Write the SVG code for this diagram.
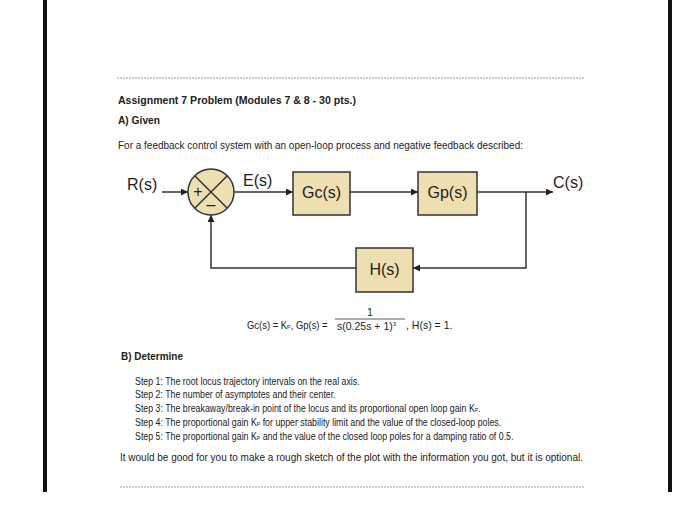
<svg xmlns="http://www.w3.org/2000/svg" width="700" height="508" viewBox="0 0 700 508">
<defs>
<style>
.t{font-family:"Liberation Sans",Arial,sans-serif;font-size:10.5px;fill:#222}
.b{font-weight:bold}
.lbl{font-family:"Liberation Sans",Arial,sans-serif;font-size:16px;fill:#222}
.box{fill:#eedfb0;stroke:#333;stroke-width:1.5}
.ln{fill:none;stroke:#333;stroke-width:1.5}
.dash{stroke:#999;stroke-width:1;stroke-dasharray:2 1}
</style>
<marker id="ah" viewBox="0 0 10 10" refX="10" refY="5" markerWidth="7" markerHeight="7" orient="auto" markerUnits="userSpaceOnUse"><path d="M0,0L10,5L0,10z" fill="#222"/></marker>
</defs>
<rect width="700" height="508" fill="#fff"/>
<rect x="43" y="0" width="4" height="492" fill="#111"/>
<rect x="668" y="0" width="4" height="492" fill="#111"/>
<line class="dash" x1="117" y1="78" x2="585" y2="78"/>
<line class="dash" x1="120" y1="487" x2="585" y2="487"/>
<text class="t b" x="118" y="104" textLength="238" lengthAdjust="spacingAndGlyphs">Assignment 7 Problem (Modules 7 &amp; 8 - 30 pts.)</text>
<text class="t b" x="118" y="124" textLength="42" lengthAdjust="spacingAndGlyphs">A) Given</text>
<text class="t" x="118" y="149" textLength="405" lengthAdjust="spacingAndGlyphs">For a feedback control system with an open-loop process and negative feedback described:</text>
<g id="connectors">
<line class="ln" x1="162" y1="192" x2="188" y2="192" marker-end="url(#ah)"/>
<line class="ln" x1="234" y1="192" x2="293" y2="192" marker-end="url(#ah)"/>
<line class="ln" x1="350" y1="192" x2="418" y2="192" marker-end="url(#ah)"/>
<line class="ln" x1="477" y1="192" x2="553" y2="192" marker-end="url(#ah)"/>
<polyline class="ln" points="526,192 526,268 413,268" marker-end="url(#ah)"/>
<polyline class="ln" points="356,268 211,268 211,215" marker-end="url(#ah)"/>
</g>
<g id="sum">
<circle cx="211" cy="192" r="23" class="box"/>
<line class="ln" x1="194.7" y1="175.7" x2="227.3" y2="208.3"/>
<line class="ln" x1="227.3" y1="175.7" x2="194.7" y2="208.3"/>
<text class="lbl" x="198" y="197" text-anchor="middle" font-size="13">+</text>
<text class="lbl" x="211" y="210" text-anchor="middle" font-size="13">–</text>
</g>
<g id="gc"><rect class="box" x="293" y="172" width="57" height="43"/><text class="lbl" x="321.5" y="198" text-anchor="middle">Gc(s)</text></g>
<g id="gp"><rect class="box" x="418" y="172" width="59" height="43"/><text class="lbl" x="447.5" y="198" text-anchor="middle">Gp(s)</text></g>
<g id="h"><rect class="box" x="356" y="248" width="57" height="44"/><text class="lbl" x="384.5" y="275" text-anchor="middle">H(s)</text></g>
<text class="lbl" x="127" y="190">R(s)</text>
<text class="lbl" x="243" y="186">E(s)</text>
<text class="lbl" x="553" y="188">C(s)</text>
<text class="t" transform="translate(247,329) scale(0.9,1)" font-size="9">Gc(s) = K<tspan font-size="6">P</tspan>, Gp(s) =</text>
<text class="t" x="370" y="316" font-size="9" text-anchor="middle">1</text>
<line x1="335" y1="319" x2="405" y2="319" stroke="#333" stroke-width="0.8"/>
<text class="t" x="337" y="330" font-size="9">s(0.25s + 1)<tspan font-size="6" dy="-4">3</tspan></text>
<text class="t" x="406" y="329" font-size="9">, H(s) = 1.</text>
<text class="t b" x="121" y="360" textLength="62" lengthAdjust="spacingAndGlyphs">B) Determine</text>
<text class="t" transform="translate(135,385) scale(0.84,1)">Step 1: The root locus trajectory intervals on the real axis.</text>
<text class="t" transform="translate(135,398) scale(0.84,1)">Step 2: The number of asymptotes and their center.</text>
<text class="t" transform="translate(135,412) scale(0.84,1)">Step 3: The breakaway/break-in point of the locus and its proportional open loop gain K<tspan font-size="6">P</tspan>.</text>
<text class="t" transform="translate(135,426) scale(0.84,1)">Step 4: The proportional gain K<tspan font-size="6">P</tspan> for upper stability limit and the value of the closed-loop poles.</text>
<text class="t" transform="translate(135,440) scale(0.84,1)">Step 5: The proportional gain K<tspan font-size="6">P</tspan> and the value of the closed loop poles for a damping ratio of 0.5.</text>
<text class="t" x="120" y="461" textLength="463" lengthAdjust="spacingAndGlyphs">It would be good for you to make a rough sketch of the plot with the information you got, but it is optional.</text>
</svg>
